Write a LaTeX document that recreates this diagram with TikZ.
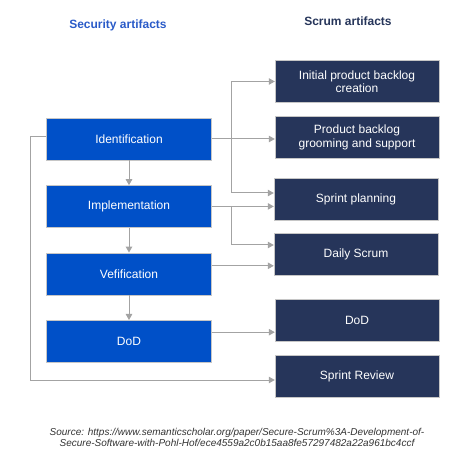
\documentclass[tikz,border=0pt]{standalone}
\usepackage{fontspec}
\setmainfont{Liberation Sans}
\usetikzlibrary{positioning, arrows.meta}
\definecolor{secblue}{HTML}{0050C8}
\definecolor{sectitle}{HTML}{2A5BC8}
\definecolor{scrumnavy}{HTML}{26355A}
\definecolor{linegrey}{HTML}{A3A3A3}
\newcommand{\flowarrow}{-{Triangle[length=6pt,width=6.5pt]}}
\tikzset{
        secbox/.style={fill=secblue, draw=gray!45, text=white, minimum width=165pt, minimum height=42pt, inner sep=0pt, font=\fontsize{12}{13.5}\selectfont},
        scrumbox/.style={fill=scrumnavy, draw=gray!45, text=white, minimum width=164pt, minimum height=42pt, inner sep=0pt, align=center, font=\fontsize{12}{13.5}\selectfont},
        flow/.style={draw=linegrey, line width=1pt, \flowarrow, color=linegrey},
        plain/.style={draw=linegrey, line width=1pt}
}

\begin{document}
\begin{tikzpicture}[x=1pt, y=-1pt]
        \useasboundingbox (0,0) rectangle (474,470);
        \node[font=\fontsize{12}{14}\selectfont\bfseries, text=sectitle] (sectitle) at (118,25) {Security artifacts};
        \node[font=\fontsize{12}{14}\selectfont\bfseries, text=scrumnavy] (scrumtitle) at (348,21) {Scrum artifacts};
        \node[secbox] (ident) at (129,139) {Identification};
        \node[secbox, below=25pt of ident] (impl) {Implementation};
        \node[secbox, below=25pt of impl] (verif) {Vefification};
        \node[secbox, below=25pt of verif] (dodsec) {DoD};
        \node[scrumbox] (initial) at (357,81.5) {Initial product backlog\\creation};
        \node[scrumbox] (backlog) at (357,137.5) {Product backlog\\grooming and support};
        \node[scrumbox] (planning) at (356,199) {Sprint planning};
        \node[scrumbox] (daily) at (356,254) {Daily Scrum};
        \node[scrumbox] (dodscrum) at (357,320) {DoD};
        \node[scrumbox] (review) at (357,376) {Sprint Review};
        \coordinate (splitA) at (231,139);
        \coordinate (splitB) at (231,206);
        \coordinate (loopcorner) at (30,380);
        \draw[flow] (ident) -- (impl);
        \draw[flow] (impl) -- (verif);
        \draw[flow] (verif) -- (dodsec);
        \draw[flow] (ident.east) -- (ident.east -| backlog.west);
        \draw[flow] (splitA) |- (initial.west);
        \draw[flow] (splitA) |- ([yshift=6pt]planning.west);
        \draw[flow] (impl.east) -- (impl.east -| planning.west);
        \draw[flow] (splitB) |- ([yshift=9pt]daily.west);
        \draw[flow] ([yshift=8pt]verif.east) -- ([yshift=8pt]verif.east -| daily.west);
        \draw[flow] ([yshift=9pt]dodsec.east) -- ([yshift=9pt]dodsec.east -| dodscrum.west);
        \draw[plain] ([yshift=2pt]ident.west) -| (loopcorner);
        \draw[flow] (loopcorner) -- (loopcorner -| review.west);
        \node[align=center, text=black!80, font=\fontsize{10}{11.5}\selectfont\itshape] (source) at (237,437.5) {Source: https://www.semanticscholar.org/paper/Secure-Scrum\%3A-Development-of-\\Secure-Software-with-Pohl-Hof/ece4559a2c0b15aa8fe57297482a22a961bc4ccf};
\end{tikzpicture}
\end{document}
